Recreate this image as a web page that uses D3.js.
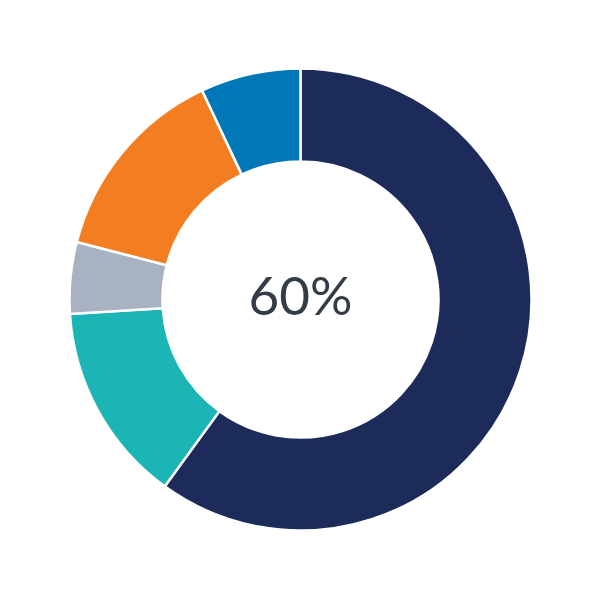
<!DOCTYPE html>
<html>
<head>
<meta charset="utf-8">
<script src="https://cdn.jsdelivr.net/npm/d3@7"></script>
<style>
  body { margin: 0; background: #fff; }
</style>
</head>
<body>
<div id="donut"></div>
<script>
// slices go clockwise from 12 o'clock
var categories = ["A", "B", "C", "D", "E"];
var values = [60, 14, 5, 14, 7];
var colors = ["#1c2b5a", "#1bb5b6", "#a8b2c1", "#f37e21", "#0077b6"];
var centerLabel = "60%";

var width = 600,
	height = 599;

var outerRadius = 231,
	innerRadius = 138;

var svg = d3.select("#donut").append("svg")
	.attr("width", width)
	.attr("height", height)
  .append("g")
	.attr("transform", "translate(" + 300.5 + "," + 299.5 + ")");

var pie = d3.pie()
	.sort(null)
	.value(function(d) { return d; });

var arc = d3.arc()
	.innerRadius(innerRadius)
	.outerRadius(outerRadius);

var color = d3.scaleOrdinal()
	.domain(categories)
	.range(colors);

svg.selectAll("path")
	.data(pie(values))
  .enter().append("path")
	.attr("d", arc)
	.style("fill", function(d, i) { return color(categories[i]); })
	.style("stroke", "#fff")
	.style("stroke-width", 2.5);

svg.append("text")
	.attr("text-anchor", "middle")
	.attr("dy", "0.29em")
	.style("font-family", "Lato, sans-serif")
	.style("font-size", "53px")
	.style("fill", "#343c48")
	.text(centerLabel);
</script>
</body>
</html>
